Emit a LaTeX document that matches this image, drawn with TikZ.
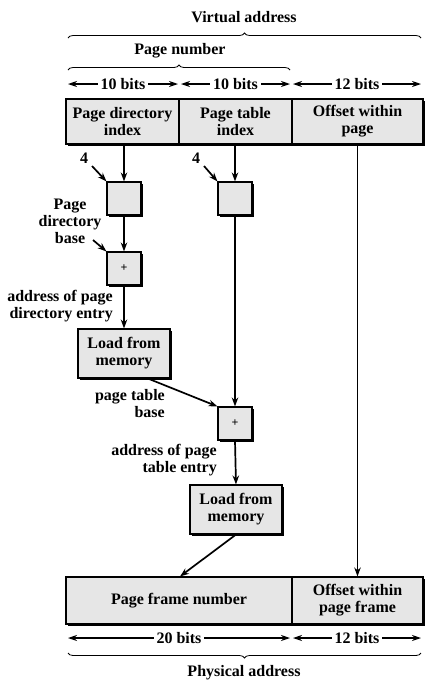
\documentclass[tikz,border=0pt]{standalone}
\usepackage{fontspec}
\setmainfont{Liberation Serif}
\usetikzlibrary{arrows.meta,shadows,decorations.pathreplacing}
\definecolor{boxgray}{HTML}{E6E6E6}
\begin{document}
\begin{tikzpicture}[x=1pt,y=-1pt,
  lbl/.style={font=\fontsize{16}{17}\selectfont\bfseries, inner sep=0pt},
  box/.style={draw, fill=boxgray, line width=1.1pt, inner sep=0pt, align=center,
    font=\fontsize{16}{17}\selectfont\bfseries,
    drop shadow={shadow xshift=2pt, shadow yshift=-2pt, fill=black, opacity=1}},
  conn/.style={line width=1.7pt, -{Stealth[length=9pt,width=6.5pt]}},
  bitsarrow/.style={line width=1.2pt, {Stealth[length=9pt,width=6pt]}-{Stealth[length=9pt,width=6pt]}},
  bitslbl/.style={lbl, fill=white, inner xsep=3pt, inner ysep=1pt},
  bracestyle/.style={line width=0.8pt, decorate, decoration={brace, amplitude=5pt}}
]
\useasboundingbox (0,0) rectangle (433,689);

% top labels and braces
\node[lbl] (va) at (244,17) {Virtual address};
\draw[bracestyle] (68,38) -- (421,38);
\node[lbl] (pn) at (180,51) {Page number};
\draw[bracestyle] (68,70) -- (290,70);

\coordinate (b1l) at (68,84);  \coordinate (b1r) at (178,84);
\coordinate (b2l) at (181,84); \coordinate (b2r) at (290,84);
\coordinate (b3l) at (293,84); \coordinate (b3r) at (421,84);
\draw[bitsarrow] (b1l) -- node[bitslbl] {10 bits} (b1r);
\draw[bitsarrow] (b2l) -- node[bitslbl] {10 bits} (b2r);
\draw[bitsarrow] (b3l) -- node[bitslbl] {12 bits} (b3r);

% virtual address box
\node[box, minimum width=113pt, minimum height=45pt] (pdi) at (122.5,121.5) {Page directory\\index};
\node[box, minimum width=113pt, minimum height=45pt] (pti) at (235.5,121.5) {Page table\\index};
\node[box, minimum width=131pt, minimum height=45pt] (off) at (357.5,121.5) {Offset within\\page};

% left column
\node[box, minimum width=34pt, minimum height=33pt] (sq1) at (124,198.5) {};
\node[box, minimum width=34pt, minimum height=33pt] (sq2) at (235,198.5) {};
\node[box, minimum width=34pt, minimum height=33pt, font=\fontsize{12}{13}\selectfont\bfseries] (plus1) at (124,268.5) {+};
\node[box, minimum width=92pt, minimum height=49pt] (load1) at (124,353.5) {Load from\\memory};
\node[box, minimum width=34pt, minimum height=33pt, font=\fontsize{12}{13}\selectfont\bfseries] (plus2) at (235,423.5) {+};
\node[box, minimum width=92pt, minimum height=49pt] (load2) at (236,509.5) {Load from\\memory};

% physical address box
\node[box, minimum width=226pt, minimum height=47pt] (pfn) at (179,600.5) {Page frame number};
\node[box, minimum width=131pt, minimum height=47pt] (ofs) at (357.5,600.5) {Offset within\\page frame};

% labels
\node[lbl] (four1) at (84,158) {4};
\node[lbl] (four2) at (196,158) {4};
\node[lbl, align=center] (pdb) at (70,221) {Page\\directory\\base};
\node[lbl, align=right, anchor=east] (ade) at (113,306) {address of page\\directory entry};
\node[lbl, align=right, anchor=east] (ptb) at (165,404) {page table\\base};
\node[lbl, align=right, anchor=east] (ate) at (217,460) {address of page\\table entry};

\coordinate (f1) at (92,166);
\coordinate (f2) at (204,166);
\coordinate (pdbarr) at (93,240);

% connectors
\draw[conn] (sq1.north |- pdi.south) -- (sq1.north);
\draw[conn] (sq2.north |- pti.south) -- (sq2.north);
\draw[conn] (f1) -- (sq1.north west);
\draw[conn] (f2) -- (sq2.north west);
\draw[conn] (sq1.south) -- (plus1.north);
\draw[conn] (pdbarr) -- (plus1.north west);
\draw[conn] (plus1.south) -- (load1.north);
\draw[conn] (sq2.south) -- (plus2.north);
\draw[conn] ([xshift=24pt]load1.south) -- (plus2.north west);
\draw[conn] (plus2.south) -- (load2.north);
\draw[conn] (load2.south) -- ([xshift=1pt]pfn.north);
\draw[conn] (ofs.north |- off.south) -- (ofs.north);

% bottom bits and brace
\coordinate (b4l) at (68,638);  \coordinate (b4r) at (290,638);
\coordinate (b5l) at (293,638); \coordinate (b5r) at (421,638);
\draw[bitsarrow] (b4l) -- node[bitslbl] {20 bits} (b4r);
\draw[bitsarrow] (b5l) -- node[bitslbl] {12 bits} (b5r);
\draw[bracestyle] (421,653) -- (68,653);
\node[lbl] (pa) at (244,673) {Physical address};
\end{tikzpicture}
\end{document}
